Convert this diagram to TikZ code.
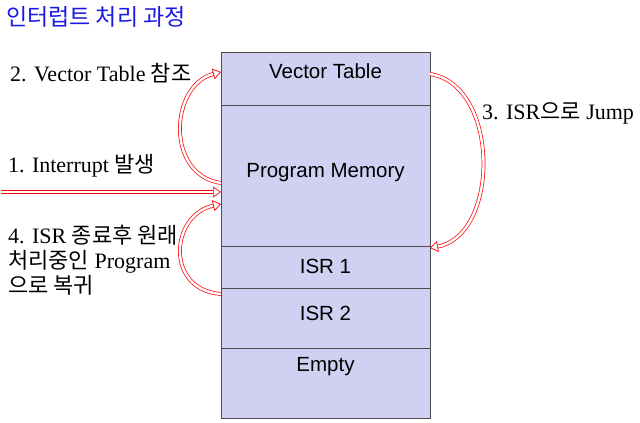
\documentclass[tikz,border=0pt]{standalone}
\usepackage{fontspec}
\setmainfont{Liberation Serif}
\setsansfont{Liberation Sans}
\newfontfamily\kr{Noto Sans CJK KR}
\usetikzlibrary{arrows.meta}
\definecolor{boxfill}{HTML}{D0D0F2}
\definecolor{titleblue}{HTML}{1A1AE6}
\tikzset{
  cell/.style={draw=black!70, fill=boxfill, line width=0.8pt},
  celltext/.style={font=\sffamily\fontsize{20.5}{24}\selectfont},
  lab/.style={anchor=west, font=\fontsize{22}{25}\selectfont, inner sep=0pt, align=left},
  rarrow/.style={draw=red, double=white, double distance=2.4pt, line width=0.7pt, -{Triangle[open,length=8pt,width=11pt]}}
}
\begin{document}
\begin{tikzpicture}[x=1pt,y=-1pt]
\useasboundingbox (0,0) rectangle (640,423);
\fill[white] (0,0) rectangle (640,423);
\draw[cell] (221,52) rectangle (430,105);
\draw[cell] (221,105) rectangle (430,246);
\draw[cell] (221,246) rectangle (430,288);
\draw[cell] (221,288) rectangle (430,348);
\draw[cell] (221,348) rectangle (430,418);
\node[celltext] (vt) at (325.5,71) {Vector Table};
\node[celltext] (pm) at (325.5,173) {Program Memory};
\node[celltext] (isr1) at (325.5,266) {ISR 1};
\node[celltext] (isr2) at (325.5,313) {ISR 2};
\node[celltext] (emp) at (325.5,367) {Empty};
\node[anchor=west, inner sep=0pt, text=titleblue, font=\kr\fontsize{23}{26}\selectfont] (title) at (6,17) {인터럽트 처리 과정};
\node[lab] (l2) at (10,73) {2. Vector Table {\kr 참조}};
\node[lab] (l1) at (8,166) {1. Interrupt {\kr 발생}};
\node[lab] (l4) at (8,260) {4. ISR {\kr 종료후 원래}\\{\kr 처리중인} Program\\{\kr 으로 복귀}};
\node[lab] (l3) at (482,113) {3. ISR{\kr 으로} Jump};
\coordinate (a1s) at (1,192);
\coordinate (a1e) at (221,192);
\coordinate (a2s) at (221,183);
\coordinate (a2e) at (221,72);
\coordinate (a4s) at (221,294);
\coordinate (a4e) at (221,204);
\coordinate (a3s) at (430,74);
\coordinate (a3e) at (430,248);
\draw[rarrow] (a1s) -- (a1e);
\draw[rarrow] (a2s) .. controls (165,175) and (170,85) .. (a2e);
\draw[rarrow] (a4s) .. controls (165,290) and (170,215) .. (a4e);
\draw[rarrow] (a3s) .. controls (500,85) and (500,235) .. (a3e);
\end{tikzpicture}
\end{document}
